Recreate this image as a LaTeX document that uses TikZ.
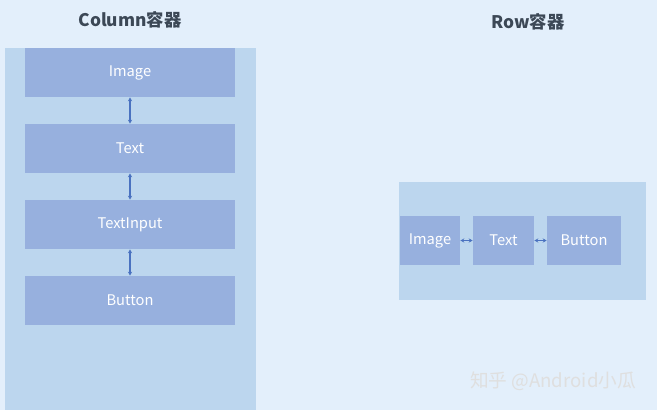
\documentclass[tikz,border=0pt]{standalone}
\usepackage{fontspec}
\setmainfont{Noto Sans CJK SC}
\usetikzlibrary{arrows.meta}
\definecolor{bg}{HTML}{E3EFFB}
\definecolor{cont}{HTML}{BCD6EE}
\definecolor{boxc}{HTML}{97B0DE}
\definecolor{arr}{HTML}{4A72C0}
\definecolor{title}{HTML}{3C4856}
\tikzset{
 item/.style={fill=boxc,draw=none,text=white,font=\fontsize{11}{13}\selectfont},
 link/.style={draw=arr,line width=0.8pt,{Stealth[length=3pt,width=3pt]}-{Stealth[length=3pt,width=3pt]}},
 ttl/.style={text=title,font=\bfseries\fontsize{13}{15}\selectfont}
}
\begin{document}
\begin{tikzpicture}[x=0.75pt,y=-0.75pt]
\fill[bg] (0,0) rectangle (657,410);
\useasboundingbox (0,0) rectangle (657,410);
\fill[cont] (5,48) rectangle (256,410);
\fill[cont] (399,182) rectangle (646,300);
\node[ttl] (t1) at (130,20) {Column容器};
\node[ttl] (t2) at (528,22) {Row容器};
\node[item,minimum width=157.5pt,minimum height=36.75pt] (c1) at (130,72.5) {Image};
\node[item,minimum width=157.5pt,minimum height=36.75pt] (c2) at (130,148.5) {Text};
\node[item,minimum width=157.5pt,minimum height=36.75pt] (c3) at (130,224.5) {TextInput};
\node[item,minimum width=157.5pt,minimum height=36.75pt] (c4) at (130,300.5) {Button};
\draw[link] (c1.south) -- (c2.north);
\draw[link] (c2.south) -- (c3.north);
\draw[link] (c3.south) -- (c4.north);
\node[item,minimum width=45pt,minimum height=36.75pt] (r1) at (430,240.5) {Image};
\node[item,minimum width=45.75pt,minimum height=36.75pt] (r2) at (503.5,240.5) {Text};
\node[item,minimum width=55.5pt,minimum height=36.75pt] (r3) at (584,240.5) {Button};
\draw[link] (r1.east) -- (r2.west);
\draw[link] (r2.east) -- (r3.west);
\node[text=gray!25,font=\fontsize{14}{16}\selectfont] (wm) at (553,381) {知乎 @Android小瓜};
\end{tikzpicture}
\end{document}
